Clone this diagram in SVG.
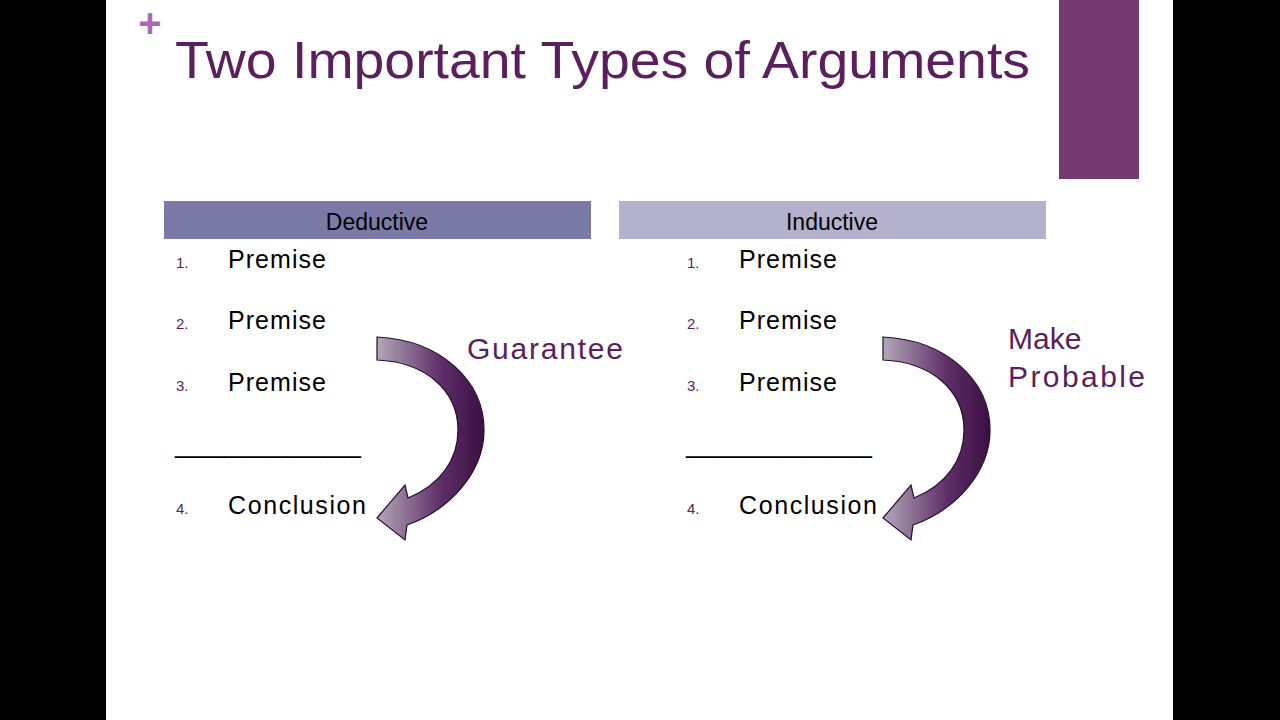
<svg xmlns="http://www.w3.org/2000/svg" width="1280" height="720" viewBox="0 0 1280 720">
<defs>
<linearGradient id="g" x1="0" y1="0" x2="1" y2="0"><stop offset="0" stop-color="#b3a8b8"/><stop offset="0.6" stop-color="#5e2e68"/><stop offset="1" stop-color="#3a0f42"/></linearGradient>
<path id="arr" d="M377,337 C440,340 484,380 484,430 C484,472 450,510 407,525 L405,540 L377,518 L405,485 L408,498 C440,485 458,460 458,430 C458,390 425,362 377,360 Z" fill="url(#g)" stroke="#2a0a30" stroke-width="1.2"/>
<style>
.t{font-family:"Liberation Sans",sans-serif;}
.n{font-family:"Liberation Sans",sans-serif;font-size:15px;fill:#5a1f5c}
.i{font-family:"Liberation Sans",sans-serif;font-size:25px;fill:#000}
.p{font-family:"Liberation Sans",sans-serif;font-size:30px;fill:#5a1f5c}
</style>
</defs>
<rect width="1280" height="720" fill="#000"/>
<rect x="106" y="0" width="1067" height="720" fill="#fff"/>
<rect x="1059" y="0" width="80" height="179" fill="#763a73"/>
<text x="150" y="37" class="t" font-size="40" fill="#b266b8" font-weight="bold" text-anchor="middle">+</text>
<text x="175" y="78" class="t" font-size="52" fill="#5a1f5c" textLength="855" lengthAdjust="spacingAndGlyphs">Two Important Types of Arguments</text>
<g id="deductive">
<rect x="164" y="201" width="427" height="38" fill="#7b79a6"/>
<text x="377" y="230" class="t" font-size="23" text-anchor="middle">Deductive</text>
<text x="176" y="268" class="n">1.</text><text x="228" y="268" class="i" textLength="98">Premise</text>
<text x="176" y="329" class="n">2.</text><text x="228" y="329" class="i" textLength="98">Premise</text>
<text x="176" y="391" class="n">3.</text><text x="228" y="391" class="i" textLength="98">Premise</text>
<text x="175" y="453" class="i" textLength="186" lengthAdjust="spacingAndGlyphs">_______________</text>
<text x="176" y="514" class="n">4.</text><text x="228" y="514" class="i" textLength="138">Conclusion</text>
</g>
<g id="inductive">
<rect x="619" y="201" width="427" height="38" fill="#b3b1cb"/>
<text x="832" y="230" class="t" font-size="23" text-anchor="middle">Inductive</text>
<text x="687" y="268" class="n">1.</text><text x="739" y="268" class="i" textLength="98">Premise</text>
<text x="687" y="329" class="n">2.</text><text x="739" y="329" class="i" textLength="98">Premise</text>
<text x="687" y="391" class="n">3.</text><text x="739" y="391" class="i" textLength="98">Premise</text>
<text x="686" y="453" class="i" textLength="186" lengthAdjust="spacingAndGlyphs">_______________</text>
<text x="687" y="514" class="n">4.</text><text x="739" y="514" class="i" textLength="138">Conclusion</text>
</g>
<g id="connectors">
<use href="#arr"/>
<use href="#arr" transform="translate(506,0)"/>
</g>
<g id="labels">
<text x="467" y="359" class="p" textLength="156">Guarantee</text>
<text x="1008" y="349" class="p">Make</text>
<text x="1008" y="387" class="p" textLength="137">Probable</text>
</g>
</svg>
